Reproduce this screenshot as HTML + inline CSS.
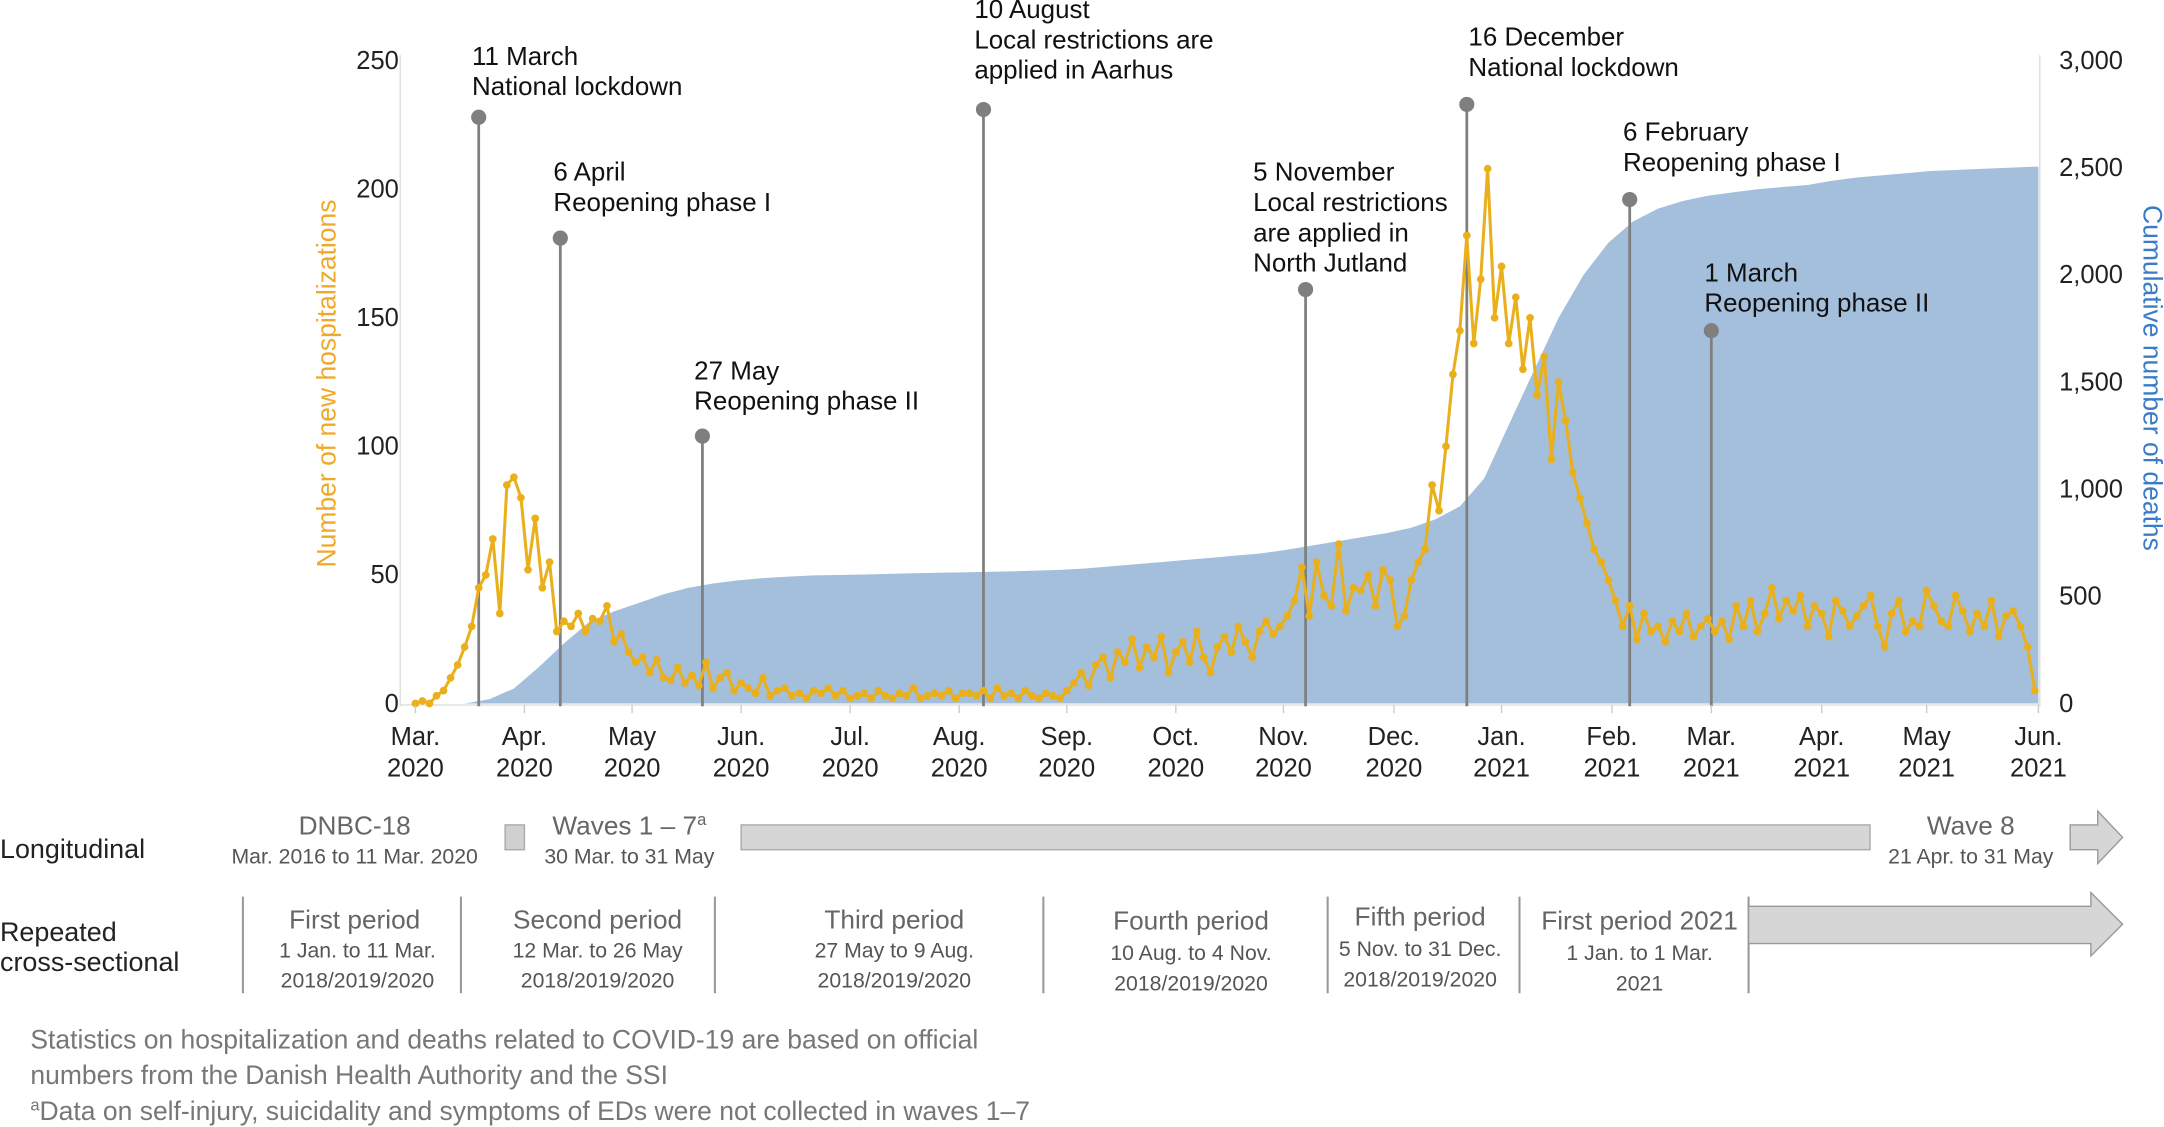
<!DOCTYPE html>
<html><head><meta charset="utf-8"><style>
html,body{margin:0;padding:0;background:#fff;}
svg{display:block;font-family:"Liberation Sans",sans-serif;}
.t{font-size:18.5px;fill:#222;}
.an{font-size:18.8px;fill:#111;}
.sm{font-size:15.4px;fill:#555;}
.md{font-size:19px;fill:#666;}
.lab{font-size:19.5px;fill:#222;}
.fn{font-size:19.2px;fill:#777;}
</style></head><body>
<svg id="chart" width="2164" height="1127" viewBox="0 0 1568 817" preserveAspectRatio="none" xmlns="http://www.w3.org/2000/svg">
<g id="deaths-layer"></g>
<line x1="290" y1="40" x2="290" y2="512" stroke="#ddd" stroke-width="1"/>
<line x1="1478" y1="40" x2="1478" y2="512" stroke="#ddd" stroke-width="1"/>
<line x1="290" y1="511" x2="1478" y2="511" stroke="#ddd" stroke-width="1"/>
<g id="event-layer"></g>
<g id="hosp-layer"></g>
<g id="axis-layer"></g>
<text x="243" y="278" transform="rotate(-90 243 278)" text-anchor="middle" style="font-size:19.2px;fill:#F0A828">Number of new hospitalizations</text>
<text x="1553" y="274" transform="rotate(90 1553 274)" text-anchor="middle" style="font-size:19.2px;fill:#3B7CC8">Cumulative number of deaths</text>

<g>
<text class="an" x="342" y="47"><tspan x="342">11 March</tspan><tspan x="342" dy="22">National lockdown</tspan></text>
<text class="an" x="401" y="131"><tspan x="401">6 April</tspan><tspan x="401" dy="22">Reopening phase I</tspan></text>
<text class="an" x="503" y="275"><tspan x="503">27 May</tspan><tspan x="503" dy="22">Reopening phase II</tspan></text>
<text class="an" x="706" y="13"><tspan x="706">10 August</tspan><tspan x="706" dy="22">Local restrictions are</tspan><tspan x="706" dy="22">applied in Aarhus</tspan></text>
<text class="an" x="908" y="131"><tspan x="908">5 November</tspan><tspan x="908" dy="22">Local restrictions</tspan><tspan x="908" dy="22">are applied in</tspan><tspan x="908" dy="22">North Jutland</tspan></text>
<text class="an" x="1064" y="33"><tspan x="1064">16 December</tspan><tspan x="1064" dy="22">National lockdown</tspan></text>
<text class="an" x="1176" y="102"><tspan x="1176">6 February</tspan><tspan x="1176" dy="22">Reopening phase I</tspan></text>
<text class="an" x="1235" y="204"><tspan x="1235">1 March</tspan><tspan x="1235" dy="22">Reopening phase II</tspan></text>
</g>

<g>
<text class="lab" x="0" y="622">Longitudinal</text>
<text class="lab" x="0" y="682"><tspan x="0">Repeated</tspan><tspan x="0" dy="22">cross-sectional</tspan></text>
<text class="md" x="257" y="605" text-anchor="middle">DNBC-18</text>
<text class="sm" x="257" y="626" text-anchor="middle">Mar. 2016 to 11 Mar. 2020</text>
<rect x="366" y="598" width="14" height="18" fill="#d0d0d0" stroke="#aaa"/>
<text class="md" x="456" y="605" text-anchor="middle">Waves 1 – 7<tspan dy="-7" style="font-size:12px">a</tspan></text>
<text class="sm" x="456" y="626" text-anchor="middle">30 Mar. to 31 May</text>
<rect x="537" y="598" width="818" height="18" fill="#d6d6d6" stroke="#aaa"/>
<text class="md" x="1428" y="605" text-anchor="middle">Wave 8</text>
<text class="sm" x="1428" y="626" text-anchor="middle">21 Apr. to 31 May</text>
<polygon points="1500,598 1520,598 1520,588 1538,607 1520,626 1520,616 1500,616" fill="#d6d6d6" stroke="#999"/>
<g stroke="#999" stroke-width="1.5">
<line x1="176" y1="650" x2="176" y2="720"/><line x1="334" y1="650" x2="334" y2="720"/><line x1="518" y1="650" x2="518" y2="720"/><line x1="756" y1="650" x2="756" y2="720"/><line x1="962" y1="650" x2="962" y2="720"/><line x1="1101" y1="650" x2="1101" y2="720"/><line x1="1267" y1="650" x2="1267" y2="720"/>
</g>
<text class="md" x="257" y="673" text-anchor="middle">First period</text>
<text class="sm" x="259" y="694" text-anchor="middle"><tspan x="259">1 Jan. to 11 Mar.</tspan><tspan x="259" dy="22">2018/2019/2020</tspan></text>
<text class="md" x="433" y="673" text-anchor="middle">Second period</text>
<text class="sm" x="433" y="694" text-anchor="middle"><tspan x="433">12 Mar. to 26 May</tspan><tspan x="433" dy="22">2018/2019/2020</tspan></text>
<text class="md" x="648" y="673" text-anchor="middle">Third period</text>
<text class="sm" x="648" y="694" text-anchor="middle"><tspan x="648">27 May to 9 Aug.</tspan><tspan x="648" dy="22">2018/2019/2020</tspan></text>
<text class="md" x="863" y="674" text-anchor="middle">Fourth period</text>
<text class="sm" x="863" y="696" text-anchor="middle"><tspan x="863">10 Aug. to 4 Nov.</tspan><tspan x="863" dy="22">2018/2019/2020</tspan></text>
<text class="md" x="1029" y="671" text-anchor="middle">Fifth period</text>
<text class="sm" x="1029" y="693" text-anchor="middle"><tspan x="1029">5 Nov. to 31 Dec.</tspan><tspan x="1029" dy="22">2018/2019/2020</tspan></text>
<text class="md" x="1188" y="674" text-anchor="middle">First period 2021</text>
<text class="sm" x="1188" y="696" text-anchor="middle"><tspan x="1188">1 Jan. to 1 Mar.</tspan><tspan x="1188" dy="22">2021</tspan></text>
<polygon points="1267,657 1515,657 1515,647 1538,670 1515,693 1515,684 1267,684" fill="#d6d6d6" stroke="#999"/>
<text class="fn" x="22" y="760">Statistics on hospitalization and deaths related to COVID-19 are based on official</text>
<text class="fn" x="22" y="786">numbers from the Danish Health Authority and the SSI</text>
<text class="fn" x="22" y="812"><tspan dy="-7" style="font-size:12px">a</tspan><tspan dy="7">Data on self-injury, suicidality and symptoms of EDs were not collected in waves 1–7</tspan></text>
</g>
</svg>
<script>
// Data
const monthLabels = ["Mar.","Apr.","May","Jun.","Jul.","Aug.","Sep.","Oct.","Nov.","Dec.","Jan.","Feb.","Mar.","Apr.","May","Jun."];
const yearLabels = ["2020","2020","2020","2020","2020","2020","2020","2020","2020","2020","2021","2021","2021","2021","2021","2021"];
const monthStartDays = [0,31,61,92,122,153,184,214,245,275,306,337,365,396,426,457];
const leftTicks = [0,50,100,150,200,250];
const rightTicks = [0,500,1000,1500,2000,2500,3000];
const rightTickLabels = ["0","500","1,000","1,500","2,000","2,500","3,000"];
// hospitalizations every 2 days from 1 Mar 2020
const hospStepDays = 2;
const hospValues = [0,1,0,3,5,10,15,22,30,45,50,64,35,85,88,80,
52,72,45,55,28,32,30,35,28,33,32,38,24,27,20,
16,18,12,17,10,9,14,8,11,7,16,6,10,12,5,8,
6,4,10,3,5,6,3,4,2,5,4,6,3,5,2,
3,4,2,5,3,2,4,3,6,2,3,4,3,5,2,4,
4,3,5,2,6,3,4,2,5,3,2,4,3,2,5,
8,12,7,15,18,10,20,16,25,14,22,18,26,12,20,
24,16,28,18,12,22,26,20,30,24,18,28,32,27,30,34,
40,53,34,55,42,38,62,36,45,44,50,38,52,48,30,34,
48,55,60,85,75,100,128,145,182,140,165,208,150,170,140,
158,130,150,120,135,95,125,110,90,80,70,60,55,48,40,
30,38,25,35,28,30,24,32,28,35,26,30,33,28,
32,25,38,30,40,28,35,45,33,40,36,42,30,38,35,26,
40,36,30,34,38,42,30,22,35,40,28,32,30,44,38,
32,30,42,36,28,35,30,40,26,34,36,30,22,5];
// cumulative deaths weekly from 1 Mar 2020
const deathStepDays = 7;
const deathValues = [0,0,0,20,70,170,280,380,430,470,510,540,560,575,585,592,598,600,602,605,608,610,612,614,617,620,624,630,640,650,660,670,680,690,700,715,735,755,775,795,820,860,920,1050,1300,1550,1800,2000,2150,2250,2310,2345,2370,2385,2400,2410,2420,2440,2455,2465,2475,2485,2490,2495,2500,2505];
const eventNames = ["11-march","6-april","27-may","10-august","5-november","16-december","6-february","1-march"];
// event positions as drawn on the figure's time axis (days since 1 Mar 2020)
const eventDays = [18,41,81,160,251,296,342,365];
const eventHeights = [228,181,104,231,161,233,196,145]; // stem top in left-axis units

// layout
const tickX = [301,380,458,537,616,695,773,852,930,1010,1088,1168,1240,1320,1396,1477];
const Y0 = 510, YTOP = 44;
function x(day){
  for(let i=0;i<monthStartDays.length-1;i++){
    if(day<=monthStartDays[i+1]){const f=(day-monthStartDays[i])/(monthStartDays[i+1]-monthStartDays[i]);return tickX[i]+f*(tickX[i+1]-tickX[i]);}
  }
  return tickX[tickX.length-1];
}
function yL(v){return Y0-(v/250)*(Y0-YTOP);}
function yR(v){return Y0-(v/3000)*(Y0-YTOP);}
const NS="http://www.w3.org/2000/svg";
function mk(tag,attrs,parent){const e=document.createElementNS(NS,tag);for(const k in attrs)e.setAttribute(k,attrs[k]);parent.appendChild(e);return e;}

// deaths area
const dl=document.getElementById('deaths-layer');
let d="M"+x(0)+","+Y0;
deathValues.forEach((v,i)=>{d+=" L"+x(Math.min(i*deathStepDays,457)).toFixed(1)+","+yR(v).toFixed(1);});
d+=" L"+x(457)+","+yR(deathValues[deathValues.length-1])+" L"+x(457)+","+Y0+" Z";
const area=mk('path',{d:d,fill:"#A3BFDC"},dl);



// events
const el=document.getElementById('event-layer');
eventDays.forEach((dd,i)=>{
  const g=mk('g',{},el);
  
  
  mk('line',{x1:x(dd),x2:x(dd),y1:yL(eventHeights[i]),y2:Y0+2,stroke:"#7f7f7f","stroke-width":2},g);
  mk('circle',{cx:x(dd),cy:yL(eventHeights[i]),r:5.5,fill:"#7f7f7f"},g);
});

// hosp line
const hl=document.getElementById('hosp-layer');
const pts=hospValues.map((v,i)=>x(i*hospStepDays).toFixed(1)+","+yL(v).toFixed(1)).join(" ");
const pl=mk('polyline',{points:pts,fill:"none",stroke:"#E9B01C","stroke-width":2.2,"stroke-linejoin":"round"},hl);


hospValues.forEach((v,i)=>{
  const c=mk('circle',{cx:x(i*hospStepDays),cy:yL(v),r:2.8,fill:"#E9B01C"},hl);
  
  
});

// axes
const al=document.getElementById('axis-layer');
leftTicks.forEach(v=>{
  const t=mk('text',{x:289,y:yL(v)+6,"text-anchor":"end",class:"t"},al);t.textContent=v;
  
  
});
rightTicks.forEach((v,i)=>{
  const t=mk('text',{x:1492,y:yR(v)+6,class:"t"},al);t.textContent=rightTickLabels[i];
  
  
});
monthLabels.forEach((m,i)=>{
  const xx=x(monthStartDays[i]);
  mk('line',{x1:xx,x2:xx,y1:511,y2:517,stroke:"#ccc"},al);
  const t=mk('text',{x:xx,y:540,"text-anchor":"middle",class:"t"},al);t.textContent=m;
  
  
  const t2=mk('text',{x:xx,y:563,"text-anchor":"middle",class:"t"},al);t2.textContent=yearLabels[i];
  
  
});
</script>
</body></html>
